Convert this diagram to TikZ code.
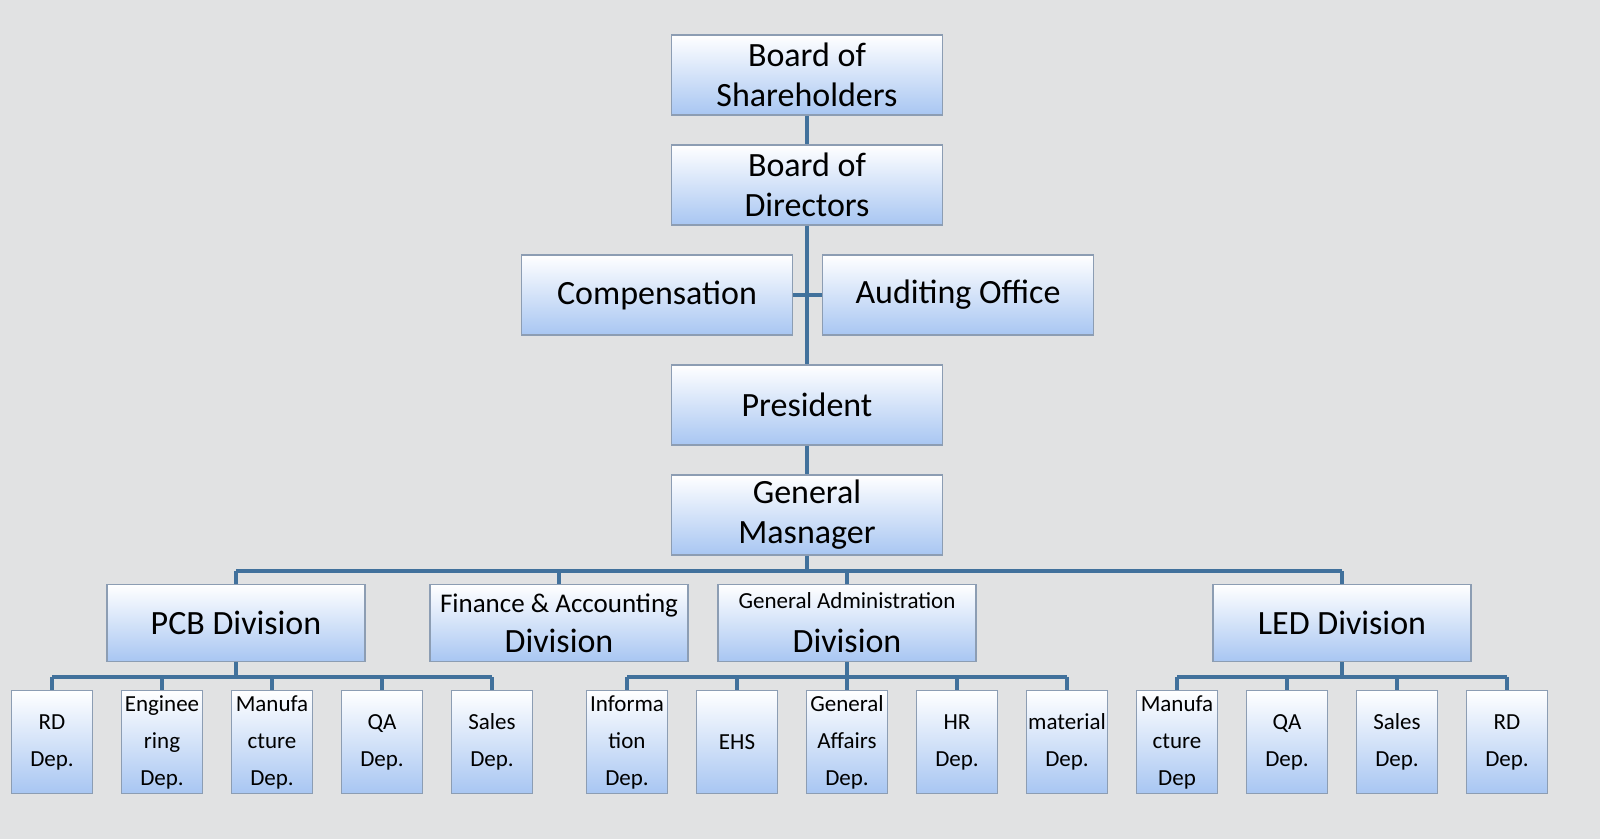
\documentclass[tikz,border=0pt]{standalone}
\usepackage{fontspec}
\setmainfont{Carlito}
\definecolor{lnc}{HTML}{41719C}
\definecolor{bbot}{HTML}{A8C6F2}
\definecolor{bdr}{HTML}{8C9DB3}
\definecolor{bg}{HTML}{E1E2E3}
\begin{document}
\begin{tikzpicture}[x=0.5pt,y=-0.5pt,
 box/.style={draw=bdr, line width=0.6pt, top color=white, bottom color=bbot, minimum width=135.5pt, minimum height=40pt, inner sep=1pt, align=center},
 big/.style={box, font=\fontsize{17}{20}\selectfont},
 mid/.style={box, minimum width=129pt, minimum height=38.5pt, font=\fontsize{17}{20}\selectfont},
 dep/.style={box, minimum width=40.5pt, minimum height=51.5pt, font=\fontsize{11.5}{18.5}\selectfont},
 ln/.style={draw=lnc, line width=2pt}]
\fill[bg] (0,0) rectangle (1600,839);
\useasboundingbox (0,0) rectangle (1600,839);
\node[big] (bs) at (807,75) {Board of\\Shareholders};
\node[big] (bd) at (807,185) {Board of\\Directors};
\node[big] (co) at (657,295) {Compensation};
\node[big] (au) at (958,295) {Auditing Office};
\node[big] (pr) at (807,405) {President};
\node[big] (gm) at (807,515) {General\\Masnager};
\node[mid] (pcb) at (236,623) {PCB Division};
\node[mid] (fin) at (559,623) {{\fontsize{13.5}{16}\selectfont Finance \& Accounting}\\Division};
\node[mid] (ga) at (847,623) {{\fontsize{11.5}{18}\selectfont General Administration}\\[2pt]Division};
\node[mid] (led) at (1342,623) {LED Division};
\foreach \n/\x/\t in {p1/52/{RD\\Dep.},p2/162/{Enginee\\ring\\Dep.},p3/272/{Manufa\\cture\\Dep.},p4/382/{QA\\Dep.},p5/492/{Sales\\Dep.},
 g1/627/{Informa\\tion\\Dep.},g2/737/{EHS},g3/847/{General\\Affairs\\Dep.},g4/957/{HR\\Dep.},g5/1067/{material\\Dep.},
 l1/1177/{Manufa\\cture\\Dep},l2/1287/{QA\\Dep.},l3/1397/{Sales\\Dep.},l4/1507/{RD\\Dep.}}
 \node[dep] (\n) at (\x,742) {\t};
\path[ln] (bs) -- (bd) (bd) -- (pr) (pr) -- (gm) (co.east) -- (au.west);
\path[ln] (gm.south) -- (807,571);
\path[ln] (236,571) -- (1342,571);
\foreach \n in {pcb,fin,ga,led} \path[ln] (\n.north |- 0,571) -- (\n.north);
\path[ln] (52,677) -- (492,677) (pcb) -- (236,677);
\path[ln] (627,677) -- (1067,677) (ga) -- (847,677);
\path[ln] (1177,677) -- (1507,677) (led) -- (1342,677);
\foreach \n in {p1,p2,p3,p4,p5,g1,g2,g3,g4,g5,l1,l2,l3,l4} \path[ln] (\n.north |- 0,677) -- (\n.north);
\end{tikzpicture}
\end{document}
